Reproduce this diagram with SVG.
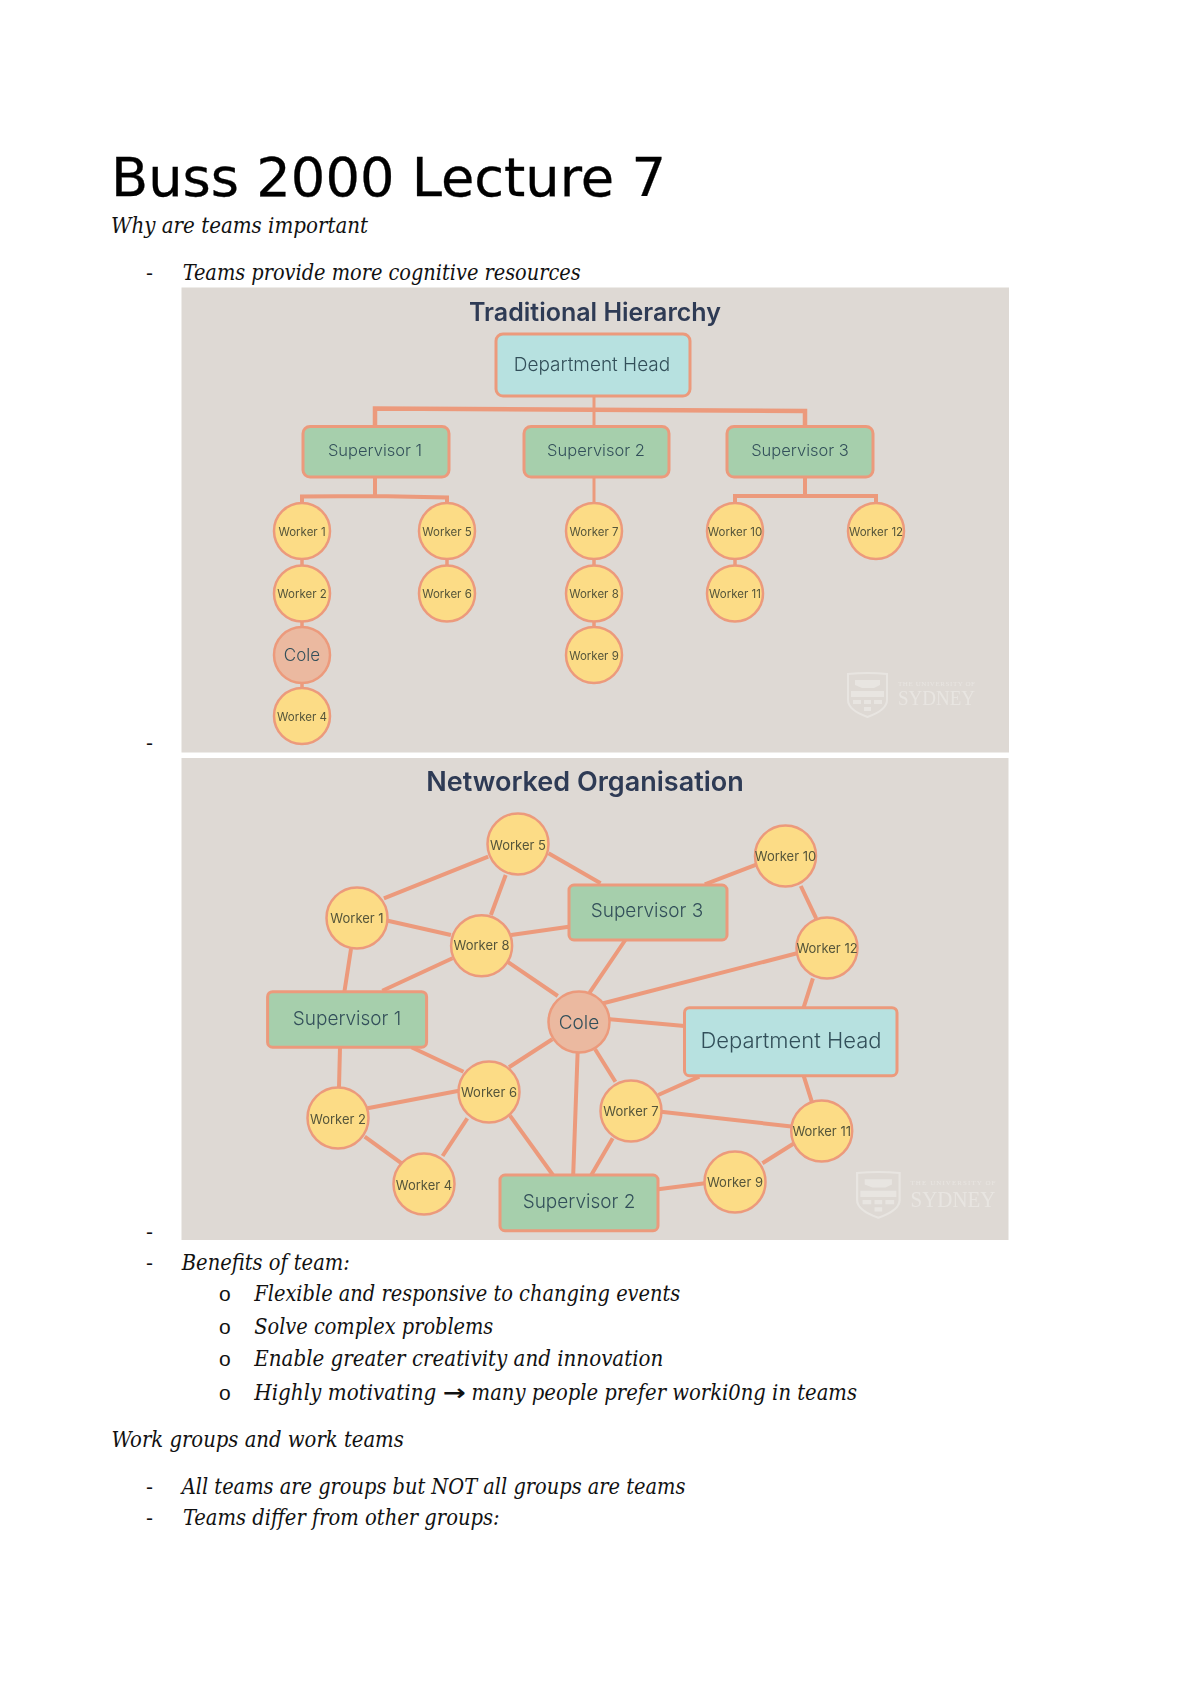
<svg xmlns="http://www.w3.org/2000/svg" width="1200" height="1698" viewBox="0 0 1200 1698">
<style>
.doc{font-family:"DejaVu Serif","Liberation Serif",serif;font-style:italic;font-stretch:condensed;font-size:22.500px;fill:#111}
.mk{font-family:"Liberation Sans",sans-serif;font-size:21px;fill:#111}
.ttl{font-family:"DejaVu Sans",sans-serif;font-size:53px;fill:#000;stroke:#000;stroke-width:.3}
.panel{fill:#ded9d4}
.h{font-family:"Inter","Roboto",sans-serif;font-weight:600;fill:#2f3b55;text-anchor:middle}
.t{font-family:"Inter","Roboto",sans-serif;font-weight:300;fill:#33505a;text-anchor:middle}
.link{fill:none;stroke:#ec9a7c;stroke-linecap:butt}
.g{fill:#a6cfac;stroke:#ec9a7c;stroke-width:3}
.b{fill:#b7e1e0;stroke:#ec9a7c;stroke-width:3}
.y{fill:#fcdc86;stroke:#ec9a7c;stroke-width:2.500}
.c{fill:#ebb9a0;stroke:#ec9a7c;stroke-width:2.500}
.wl{fill:#55553a;font-weight:400}
.w1{font-size:11.500px}.s1{font-size:16.500px}.d1{font-size:19px}.k1{font-size:17px}
.w2{font-size:13px}.s2{font-size:19px}.d2{font-size:22px}.k2{font-size:19px}
.lt{font-family:"Liberation Serif",serif;fill:#e8e5e1}
.sh{fill:none;stroke:#e8e5e1;stroke-width:2}
.sf{fill:#e8e5e1}
</style>
<defs>
<filter id="soft" x="0" y="0" width="1" height="1"><feGaussianBlur stdDeviation="0.500"/></filter>
<g id="shield">
<path class="sh" d="M1 1q20 -2 39 0v26q0 10-19.500 17q-19.500-7-19.500-17z"/>
<path class="sf" d="M8 7h25v5l-6 3h-12l-7-3zM4 18h33v6h-33zM6 27h8v4h-8zM17 27h7v4h-7zM27 27h8v4h-8zM17 34h7v4h-7z"/>
</g>
</defs>
<rect width="1200" height="1698" fill="#fff"/>

<g id="document-text">
<text class="ttl" x="111" y="196" textLength="555" lengthAdjust="spacingAndGlyphs">Buss 2000 Lecture 7</text>
<text class="doc" x="111" y="233" textLength="257" lengthAdjust="spacingAndGlyphs">Why are teams important</text>
<text class="mk" x="146" y="280">-</text>
<text class="doc" x="182.700" y="280" textLength="398" lengthAdjust="spacingAndGlyphs">Teams provide more cognitive resources</text>
<text class="mk" x="146" y="750">-</text>
<text class="mk" x="146" y="1239">-</text>
<text class="mk" x="146" y="1270">-</text>
<text class="doc" x="181.800" y="1270" textLength="168" lengthAdjust="spacingAndGlyphs">Benefits of team:</text>
<text class="mk" x="219" y="1301">o</text>
<text class="doc" x="254.300" y="1301" textLength="426" lengthAdjust="spacingAndGlyphs">Flexible and responsive to changing events</text>
<text class="mk" x="219" y="1334">o</text>
<text class="doc" x="254.300" y="1334" textLength="239" lengthAdjust="spacingAndGlyphs">Solve complex problems</text>
<text class="mk" x="219" y="1366">o</text>
<text class="doc" x="254.300" y="1366" textLength="409" lengthAdjust="spacingAndGlyphs">Enable greater creativity and innovation</text>
<text class="mk" x="219" y="1400">o</text>
<text class="doc" x="254.300" y="1400" textLength="182" lengthAdjust="spacingAndGlyphs">Highly motivating</text>
<text x="443" y="1400" font-family="DejaVu Sans,sans-serif" font-weight="bold" font-size="22" fill="#111" textLength="23" lengthAdjust="spacingAndGlyphs">→</text>
<text class="doc" x="471.600" y="1400" textLength="385.400" lengthAdjust="spacingAndGlyphs">many people prefer worki0ng in teams</text>
<text class="doc" x="111.400" y="1446.500" textLength="292.400" lengthAdjust="spacingAndGlyphs">Work groups and work teams</text>
<text class="mk" x="146" y="1493.500">-</text>
<text class="doc" x="181.800" y="1493.500" textLength="503.600" lengthAdjust="spacingAndGlyphs">All teams are groups but NOT all groups are teams</text>
<text class="mk" x="146" y="1524.500">-</text>
<text class="doc" x="182.900" y="1524.500" textLength="316.800" lengthAdjust="spacingAndGlyphs">Teams differ from other groups:</text>
</g>

<g id="hierarchy-panel" filter="url(#soft)">
<rect class="panel" x="181.500" y="287.500" width="827.500" height="465"/>
<text class="h" x="595" y="321" font-size="25">Traditional Hierarchy</text>
<g id="hierarchy-logo">
<use href="#shield" x="847" y="673"/>
<text class="lt" x="898" y="685.500" font-size="7" textLength="77">THE UNIVERSITY OF</text>
<text class="lt" x="898" y="705" font-size="20" textLength="77" lengthAdjust="spacingAndGlyphs">SYDNEY</text>
</g>
<g id="hierarchy-connectors">
<path class="link" stroke-width="4.500" d="M375 426.500V408.500L805 411V426.500"/>
<path class="link" stroke-width="3" d="M594 396V426.500"/>
<path class="link" stroke-width="4" d="M375 477V497M302 504V496.500L375 496L447 497.500V504"/>
<path class="link" stroke-width="3" d="M594 477V504"/>
<path class="link" stroke-width="4" d="M735 504V496H876V504M805 477V496"/>
<path class="link" stroke-width="3.500" d="M302 555V570M302 617V630M302 680V692M447 555V570M594 555V570M594 617V630M735 555V570"/>
</g>
<g id="h-dept"><rect class="b" x="496" y="334" width="194" height="62" rx="7"/><text class="t d1" x="592" y="371">Department Head</text></g>
<g id="h-sup1"><rect class="g" x="303" y="426.500" width="146" height="50.500" rx="7"/><text class="t s1" x="375" y="456">Supervisor 1</text></g>
<g id="h-sup2"><rect class="g" x="524" y="426.500" width="145" height="50.500" rx="7"/><text class="t s1" x="596" y="456">Supervisor 2</text></g>
<g id="h-sup3"><rect class="g" x="727" y="426.500" width="146" height="50.500" rx="7"/><text class="t s1" x="800" y="456">Supervisor 3</text></g>
<g id="h-w1"><circle class="y" cx="302" cy="531" r="28"/><text class="t wl w1" x="302" y="536">Worker 1</text></g>
<g id="h-w2"><circle class="y" cx="302" cy="593.500" r="28"/><text class="t wl w1" x="302" y="598">Worker 2</text></g>
<g id="h-cole"><circle class="c" cx="302" cy="655" r="28"/><text class="t k1" x="302" y="661">Cole</text></g>
<g id="h-w4"><circle class="y" cx="302" cy="716" r="28"/><text class="t wl w1" x="302" y="721">Worker 4</text></g>
<g id="h-w5"><circle class="y" cx="447" cy="531" r="28"/><text class="t wl w1" x="447" y="536">Worker 5</text></g>
<g id="h-w6"><circle class="y" cx="447" cy="593.500" r="28"/><text class="t wl w1" x="447" y="598">Worker 6</text></g>
<g id="h-w7"><circle class="y" cx="594" cy="531" r="28"/><text class="t wl w1" x="594" y="536">Worker 7</text></g>
<g id="h-w8"><circle class="y" cx="594" cy="593.500" r="28"/><text class="t wl w1" x="594" y="598">Worker 8</text></g>
<g id="h-w9"><circle class="y" cx="594" cy="655" r="28"/><text class="t wl w1" x="594" y="660">Worker 9</text></g>
<g id="h-w10"><circle class="y" cx="735" cy="531" r="28"/><text class="t wl w1" x="735" y="536">Worker 10</text></g>
<g id="h-w11"><circle class="y" cx="735" cy="593.500" r="28"/><text class="t wl w1" x="735" y="598">Worker 11</text></g>
<g id="h-w12"><circle class="y" cx="876" cy="531" r="28"/><text class="t wl w1" x="876" y="536">Worker 12</text></g>
</g>

<g id="network-panel" filter="url(#soft)">
<rect class="panel" x="181.500" y="758" width="827" height="482"/>
<text class="h" x="585" y="791" font-size="27">Networked Organisation</text>
<g id="network-logo">
<use href="#shield" transform="translate(856 1172) scale(1.090 1.040)"/>
<text class="lt" x="910.500" y="1184.500" font-size="7" textLength="85">THE UNIVERSITY OF</text>
<text class="lt" x="910.500" y="1207" font-size="23" textLength="85" lengthAdjust="spacingAndGlyphs">SYDNEY</text>
</g>
<g id="network-connectors" class="link" stroke-width="4">
<path d="M488.200 856.700L383.900 898.300M548.500 853.300L600.600 883.300M505.700 875L490.900 915M757 864.300L704.800 884.300M800.800 886L816.200 918.300"/>
<path d="M387.800 920.700L450.900 935M351 949L344.400 991.700M511.200 935L568.800 926.700M452.500 958.300L382.300 990.700M507.400 961.700L557.800 996"/>
<path d="M625.300 940L589.600 992.700M797 953.300L603.300 1003.300M812.900 978.300L803.600 1007.700M609.900 1019.300L684.500 1026M552.300 1039.300L509 1067.300"/>
<path d="M577.600 1052.700L573.200 1175M595.100 1049.300L615.400 1081.700M411.400 1047.300L463.500 1071.700M340 1047.300L339 1087.300M367.500 1108.300L459 1090.700"/>
<path d="M364.700 1136.700L403 1164.300M467.300 1118.300L442.600 1156M510 1115.700L552.900 1175M612.700 1138.300L591.300 1175M658.200 1095L699.300 1076.700"/>
<path d="M661 1111.700L793.700 1126.700M803.600 1075.700L811.800 1101.700M794.200 1143.300L762.400 1163.300M658.200 1189.300L704.800 1183.300"/>
</g>
<g id="n-sup3"><rect class="g" x="569" y="885" width="158" height="55" rx="5"/><text class="t s2" x="647" y="917">Supervisor 3</text></g>
<g id="n-sup1"><rect class="g" x="267.600" y="991.700" width="159" height="55.500" rx="5"/><text class="t s2" x="347" y="1025">Supervisor 1</text></g>
<g id="n-dept"><rect class="b" x="684.500" y="1007.700" width="212.500" height="68" rx="5"/><text class="t d2" x="791" y="1048">Department Head</text></g>
<g id="n-sup2"><rect class="g" x="500" y="1175" width="158" height="55.700" rx="5"/><text class="t s2" x="579" y="1208">Supervisor 2</text></g>
<g id="n-w5"><circle class="y" cx="518" cy="844" r="30.500"/><text class="t wl w2" x="518" y="850">Worker 5</text></g>
<g id="n-w10"><circle class="y" cx="785.500" cy="856" r="30.500"/><text class="t wl w2" x="785.500" y="861">Worker 10</text></g>
<g id="n-w1"><circle class="y" cx="357" cy="918" r="30.500"/><text class="t wl w2" x="357" y="923">Worker 1</text></g>
<g id="n-w8"><circle class="y" cx="481.600" cy="945.700" r="30.500"/><text class="t wl w2" x="481.600" y="950">Worker 8</text></g>
<g id="n-w12"><circle class="y" cx="827" cy="948" r="30.500"/><text class="t wl w2" x="827" y="953">Worker 12</text></g>
<g id="n-cole"><circle class="c" cx="579" cy="1022" r="30.500"/><text class="t k2" x="579" y="1029">Cole</text></g>
<g id="n-w6"><circle class="y" cx="489" cy="1092" r="30.500"/><text class="t wl w2" x="489" y="1097">Worker 6</text></g>
<g id="n-w7"><circle class="y" cx="631" cy="1111" r="30.500"/><text class="t wl w2" x="631" y="1116">Worker 7</text></g>
<g id="n-w2"><circle class="y" cx="338" cy="1118" r="30.500"/><text class="t wl w2" x="338" y="1124">Worker 2</text></g>
<g id="n-w11"><circle class="y" cx="821.700" cy="1131" r="30.500"/><text class="t wl w2" x="821.700" y="1136">Worker 11</text></g>
<g id="n-w9"><circle class="y" cx="735" cy="1182" r="30.500"/><text class="t wl w2" x="735" y="1187">Worker 9</text></g>
<g id="n-w4"><circle class="y" cx="424" cy="1184" r="30.500"/><text class="t wl w2" x="424" y="1190">Worker 4</text></g>
</g>
</svg>
